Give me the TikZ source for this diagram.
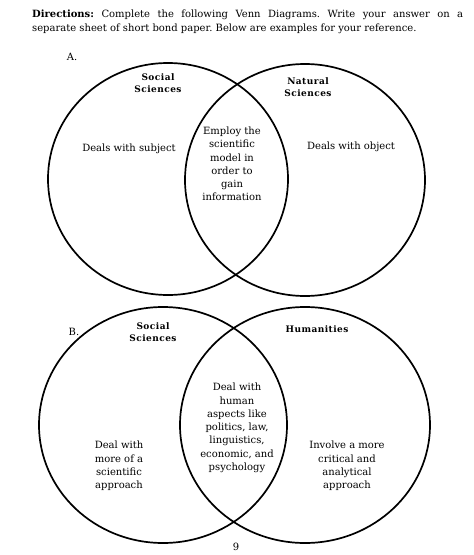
\documentclass[tikz,border=0pt]{standalone}
\usepackage{fontspec}
\setmainfont{DejaVu Serif}
\frenchspacing
\begin{document}
\begin{tikzpicture}[x=1pt,y=-1pt,
    venntext/.style={font=\fontsize{10}{13.3}\selectfont, align=center, inner sep=0pt},
    setname/.style={font=\fontsize{9}{12.5}\selectfont\bfseries\addfontfeatures{LetterSpace=5}, align=center, inner sep=0pt},
    ring/.style={line width=1.7pt}]
    \useasboundingbox (0,0) rectangle (474,555);
    % directions
    \node[anchor=base west, inner sep=0pt, font=\fontsize{10}{13}\selectfont] (dir1) at (32,17)
        {\makebox[431pt][s]{\textbf{Directions:} Complete the following Venn Diagrams. Write your answer on a}};
    \node[anchor=base west, inner sep=0pt, font=\fontsize{10}{13}\selectfont] (dir2) at (32,31)
        {separate sheet of short bond paper. Below are examples for your reference.};
    % diagram A
    \coordinate (socA) at (168,179);
    \coordinate (nat) at (305,180);
    \draw[ring] (socA) ellipse [x radius=120pt, y radius=116pt];
    \draw[ring] (nat) ellipse [x radius=120pt, y radius=116pt];
    \node[venntext] (tagA) at (72,57) {A.};
    \node[setname] (socAname) at (158,83) {Social\\Sciences};
    \node[setname] (natname) at (308,87) {Natural\\Sciences};
    \node[venntext] (subj) at (129,149) {Deals with subject};
    \node[venntext] (obj) at (351,147) {Deals with object};
    \node[venntext] (bothA) at (232,164) {Employ the\\scientific\\model in\\order to\\gain\\information};
    % diagram B
    \coordinate (socB) at (163,425);
    \coordinate (hum) at (305,425);
    \draw[ring] (socB) ellipse [x radius=124pt, y radius=118pt];
    \draw[ring] (hum) ellipse [x radius=125pt, y radius=118pt];
    \node[venntext] (tagB) at (74,332) {B.};
    \node[setname] (socBname) at (153,332) {Social\\Sciences};
    \node[setname] (humname) at (317,329) {Humanities};
    \node[venntext] (sci) at (119,466) {Deal with\\more of a\\scientific\\approach};
    \node[venntext] (crit) at (347,466) {Involve a more\\critical and\\analytical\\approach};
    \node[venntext] (bothB) at (237,428) {Deal with\\human\\aspects like\\politics, law,\\linguistics,\\economic, and\\psychology};
    \node[venntext] (page) at (236,547) {9};
\end{tikzpicture}
\end{document}
